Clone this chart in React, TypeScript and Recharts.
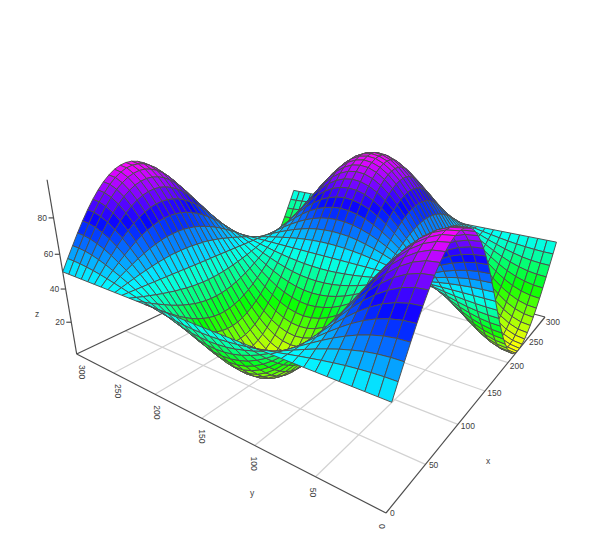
import React from 'react';
import { ScatterChart, Scatter, XAxis, YAxis } from 'recharts';

const WIDTH = 590;
const HEIGHT = 543;

const xTicks = [0, 50, 100, 150, 200, 250, 300];
const yTicks = [0, 50, 100, 150, 200, 250, 300];
const zTicks = [20, 40, 60, 80];

// surface heights, one list per y step, x runs along each list
const zRow0 = [50,56.3,62.4,68.4,74.1,79.4,84.2,88.5,92.2,95.2,97.6,99.1,99.9,99.9,99.1,97.6,95.2,92.2,88.5,84.2,79.4,74.1,68.4,62.4,56.3,50,43.7,37.6,31.6,25.9,20.6,15.8,11.5,7.8,4.8,2.4,0.9,0.1,0.1,0.9,2.4,4.8,7.8,11.5,15.8,20.6,25.9,31.6,37.6,43.7,50];
const zRow1 = [50,56.2,62.2,68.1,73.7,78.9,83.7,87.9,91.6,94.6,96.8,98.4,99.1,99.1,98.4,96.8,94.6,91.6,87.9,83.7,78.9,73.7,68.1,62.2,56.2,50,43.8,37.8,31.9,26.3,21.1,16.3,12.1,8.4,5.4,3.2,1.6,0.9,0.9,1.6,3.2,5.4,8.4,12.1,16.3,21.1,26.3,31.9,37.8,43.8,50];
const zRow2 = [50,55.9,61.7,67.3,72.6,77.6,82.2,86.2,89.7,92.5,94.7,96.1,96.9,96.9,96.1,94.7,92.5,89.7,86.2,82.2,77.6,72.6,67.3,61.7,55.9,50,44.1,38.3,32.7,27.4,22.4,17.8,13.8,10.3,7.5,5.3,3.9,3.1,3.1,3.9,5.3,7.5,10.3,13.8,17.8,22.4,27.4,32.7,38.3,44.1,50];
const zRow3 = [50,55.4,60.8,65.9,70.9,75.5,79.6,83.4,86.6,89.2,91.2,92.5,93.2,93.2,92.5,91.2,89.2,86.6,83.4,79.6,75.5,70.9,65.9,60.8,55.4,50,44.6,39.2,34.1,29.1,24.5,20.4,16.6,13.4,10.8,8.8,7.5,6.8,6.8,7.5,8.8,10.8,13.4,16.6,20.4,24.5,29.1,34.1,39.2,44.6,50];
const zRow4 = [50,54.8,59.5,64.1,68.5,72.5,76.2,79.5,82.3,84.7,86.4,87.6,88.2,88.2,87.6,86.4,84.7,82.3,79.5,76.2,72.5,68.5,64.1,59.5,54.8,50,45.2,40.5,35.9,31.5,27.5,23.8,20.5,17.7,15.3,13.6,12.4,11.8,11.8,12.4,13.6,15.3,17.7,20.5,23.8,27.5,31.5,35.9,40.5,45.2,50];
const zRow5 = [50,54,58,61.8,65.5,68.9,72,74.8,77.1,79.1,80.6,81.6,82.1,82.1,81.6,80.6,79.1,77.1,74.8,72,68.9,65.5,61.8,58,54,50,46,42,38.2,34.5,31.1,28,25.2,22.9,20.9,19.4,18.4,17.9,17.9,18.4,19.4,20.9,22.9,25.2,28,31.1,34.5,38.2,42,46,50];
const zRow6 = [50,53.1,56.2,59.2,62,64.7,67.1,69.3,71.1,72.6,73.8,74.6,75,75,74.6,73.8,72.6,71.1,69.3,67.1,64.7,62,59.2,56.2,53.1,50,46.9,43.8,40.8,38,35.3,32.9,30.7,28.9,27.4,26.2,25.4,25,25,25.4,26.2,27.4,28.9,30.7,32.9,35.3,38,40.8,43.8,46.9,50];
const zRow7 = [50,52.1,54.3,56.3,58.2,60.1,61.7,63.2,64.4,65.5,66.3,66.8,67.1,67.1,66.8,66.3,65.5,64.4,63.2,61.7,60.1,58.2,56.3,54.3,52.1,50,47.9,45.7,43.7,41.8,39.9,38.3,36.8,35.6,34.5,33.7,33.2,32.9,32.9,33.2,33.7,34.5,35.6,36.8,38.3,39.9,41.8,43.7,45.7,47.9,50];
const zRow8 = [50,51.1,52.2,53.2,54.2,55.1,55.9,56.7,57.3,57.9,58.3,58.5,58.7,58.7,58.5,58.3,57.9,57.3,56.7,55.9,55.1,54.2,53.2,52.2,51.1,50,48.9,47.8,46.8,45.8,44.9,44.1,43.3,42.7,42.1,41.7,41.5,41.3,41.3,41.5,41.7,42.1,42.7,43.3,44.1,44.9,45.8,46.8,47.8,48.9,50];
const zRow9 = [50,50,50,50,50,50,50,50,50,50,50,50,50,50,50,50,50,50,50,50,50,50,50,50,50,50,50,50,50,50,50,50,50,50,50,50,50,50,50,50,50,50,50,50,50,50,50,50,50,50,50];
const zRow10 = [50,48.9,47.8,46.8,45.8,44.9,44.1,43.3,42.7,42.1,41.7,41.5,41.3,41.3,41.5,41.7,42.1,42.7,43.3,44.1,44.9,45.8,46.8,47.8,48.9,50,51.1,52.2,53.2,54.2,55.1,55.9,56.7,57.3,57.9,58.3,58.5,58.7,58.7,58.5,58.3,57.9,57.3,56.7,55.9,55.1,54.2,53.2,52.2,51.1,50];
const zRow11 = [50,47.9,45.7,43.7,41.8,39.9,38.3,36.8,35.6,34.5,33.7,33.2,32.9,32.9,33.2,33.7,34.5,35.6,36.8,38.3,39.9,41.8,43.7,45.7,47.9,50,52.1,54.3,56.3,58.2,60.1,61.7,63.2,64.4,65.5,66.3,66.8,67.1,67.1,66.8,66.3,65.5,64.4,63.2,61.7,60.1,58.2,56.3,54.3,52.1,50];
const zRow12 = [50,46.9,43.8,40.8,38,35.3,32.9,30.7,28.9,27.4,26.2,25.4,25,25,25.4,26.2,27.4,28.9,30.7,32.9,35.3,38,40.8,43.8,46.9,50,53.1,56.2,59.2,62,64.7,67.1,69.3,71.1,72.6,73.8,74.6,75,75,74.6,73.8,72.6,71.1,69.3,67.1,64.7,62,59.2,56.2,53.1,50];
const zRow13 = [50,46,42,38.2,34.5,31.1,28,25.2,22.9,20.9,19.4,18.4,17.9,17.9,18.4,19.4,20.9,22.9,25.2,28,31.1,34.5,38.2,42,46,50,54,58,61.8,65.5,68.9,72,74.8,77.1,79.1,80.6,81.6,82.1,82.1,81.6,80.6,79.1,77.1,74.8,72,68.9,65.5,61.8,58,54,50];
const zRow14 = [50,45.2,40.5,35.9,31.5,27.5,23.8,20.5,17.7,15.3,13.6,12.4,11.8,11.8,12.4,13.6,15.3,17.7,20.5,23.8,27.5,31.5,35.9,40.5,45.2,50,54.8,59.5,64.1,68.5,72.5,76.2,79.5,82.3,84.7,86.4,87.6,88.2,88.2,87.6,86.4,84.7,82.3,79.5,76.2,72.5,68.5,64.1,59.5,54.8,50];
const zRow15 = [50,44.6,39.2,34.1,29.1,24.5,20.4,16.6,13.4,10.8,8.8,7.5,6.8,6.8,7.5,8.8,10.8,13.4,16.6,20.4,24.5,29.1,34.1,39.2,44.6,50,55.4,60.8,65.9,70.9,75.5,79.6,83.4,86.6,89.2,91.2,92.5,93.2,93.2,92.5,91.2,89.2,86.6,83.4,79.6,75.5,70.9,65.9,60.8,55.4,50];
const zRow16 = [50,44.1,38.3,32.7,27.4,22.4,17.8,13.8,10.3,7.5,5.3,3.9,3.1,3.1,3.9,5.3,7.5,10.3,13.8,17.8,22.4,27.4,32.7,38.3,44.1,50,55.9,61.7,67.3,72.6,77.6,82.2,86.2,89.7,92.5,94.7,96.1,96.9,96.9,96.1,94.7,92.5,89.7,86.2,82.2,77.6,72.6,67.3,61.7,55.9,50];
const zRow17 = [50,43.8,37.8,31.9,26.3,21.1,16.3,12.1,8.4,5.4,3.2,1.6,0.9,0.9,1.6,3.2,5.4,8.4,12.1,16.3,21.1,26.3,31.9,37.8,43.8,50,56.2,62.2,68.1,73.7,78.9,83.7,87.9,91.6,94.6,96.8,98.4,99.1,99.1,98.4,96.8,94.6,91.6,87.9,83.7,78.9,73.7,68.1,62.2,56.2,50];
const zRow18 = [50,43.7,37.6,31.6,25.9,20.6,15.8,11.5,7.8,4.8,2.4,0.9,0.1,0.1,0.9,2.4,4.8,7.8,11.5,15.8,20.6,25.9,31.6,37.6,43.7,50,56.3,62.4,68.4,74.1,79.4,84.2,88.5,92.2,95.2,97.6,99.1,99.9,99.9,99.1,97.6,95.2,92.2,88.5,84.2,79.4,74.1,68.4,62.4,56.3,50];

// the far half of the surface repeats the near half
const zGrid = [
  zRow0, zRow1, zRow2, zRow3, zRow4, zRow5, zRow6, zRow7, zRow8, zRow9,
  zRow10, zRow11, zRow12, zRow13, zRow14, zRow15, zRow16, zRow17, zRow18,
  zRow17, zRow16, zRow15, zRow14, zRow13, zRow12, zRow11, zRow10,
  zRow9, zRow8, zRow7, zRow6, zRow5, zRow4, zRow3, zRow2, zRow1, zRow0,
];

// camera fitted to the axis corners
const project = (x: number, y: number, z: number) => {
  const u = x / 300;
  const v = y / 300;
  const w = z / 50;
  const depth = 1 + 0.65 * u + 0.475 * v - 0.08 * w;
  return {
    px: (513.25 * u - 272.9 * v - 25.6 * w + 386) / depth,
    py: (10.05 * u + 9.15 * v - 142.9 * w + 513) / depth,
    depth,
  };
};

const colorFor = (z: number) => `hsl(${60 + 2.4 * z}, 100%, 51%)`;

const segment = (a: number[], b: number[]) => {
  const p = project(a[0], a[1], a[2]);
  const q = project(b[0], b[1], b[2]);
  return { x: p.px, y: p.py, dx: q.px - p.px, dy: q.py - p.py };
};

const gridSegments = [
  ...xTicks.slice(1, -1).map(t => segment([t, 0, 0], [t, 300, 0])),
  ...yTicks.slice(1, -1).map(t => segment([0, t, 0], [300, t, 0])),
];

const axisSegments = [
  segment([0, 0, 0], [300, 0, 0]),
  segment([0, 0, 0], [0, 300, 0]),
  segment([0, 300, 0], [300, 300, 0]),
  segment([300, 0, 0], [300, 300, 0]),
  segment([0, 300, 0], [0, 300, 100]),
];

const zTickSegments = zTicks.map(t => {
  const p = project(0, 300, t);
  return { x: p.px, y: p.py, dx: -5, dy: 0 };
});

const buildCells = () => {
  const nx = zGrid[0].length - 1;
  const ny = zGrid.length - 1;
  const cells: any[] = [];
  for (let j = 0; j < ny; j++) {
    for (let i = 0; i < nx; i++) {
      const xa = (i * 300) / nx;
      const xb = ((i + 1) * 300) / nx;
      const ya = (j * 300) / ny;
      const yb = ((j + 1) * 300) / ny;
      const corners = [
        project(xa, ya, zGrid[j][i]),
        project(xb, ya, zGrid[j][i + 1]),
        project(xb, yb, zGrid[j + 1][i + 1]),
        project(xa, yb, zGrid[j + 1][i]),
      ];
      const mean = (zGrid[j][i] + zGrid[j][i + 1] + zGrid[j + 1][i + 1] + zGrid[j + 1][i]) / 4;
      cells.push({
        x: corners[0].px,
        y: corners[0].py,
        points: corners.map(c => `${c.px - corners[0].px},${c.py - corners[0].py}`).join(' '),
        fill: colorFor(mean),
        depth: corners.reduce((s, c) => s + c.depth, 0) / 4,
      });
    }
  }
  // far cells first so the near ones paint over them
  return cells.sort((a, b) => b.depth - a.depth);
};

const cells = buildCells();

const tickLabels = [
  ...xTicks.map(t => {
    const p = project(t, 0, 0);
    return { x: p.px + 4 - 0.011 * t, y: p.py + 0.0167 * t, text: String(t), anchor: 'start', rotate: 0 };
  }),
  ...yTicks.map(t => {
    const p = project(0, t, 0);
    return { x: p.px - 4.5 + 0.034 * t, y: p.py + 11, text: String(t), anchor: 'start', rotate: 90 };
  }),
  ...zTicks.map(t => {
    const p = project(0, 300, t);
    return { x: p.px - 6.5, y: p.py, text: String(t), anchor: 'end', rotate: 0 };
  }),
];

const axisTitles = [
  { x: 488, y: 461, text: 'x', anchor: 'middle', rotate: 0 },
  { x: 252, y: 492.5, text: 'y', anchor: 'middle', rotate: 0 },
  { x: 37, y: 314, text: 'z', anchor: 'middle', rotate: 0 },
];

const CellShape = (props: any) => (
  <polygon
    transform={`translate(${props.cx},${props.cy})`}
    points={props.payload.points}
    fill={props.payload.fill}
    stroke="#4d4d4d"
    strokeWidth={0.95}
    strokeLinejoin="round"
  />
);

const lineShape = (color: string, width: number) => (props: any) => (
  <line
    x1={props.cx}
    y1={props.cy}
    x2={props.cx + props.payload.dx}
    y2={props.cy + props.payload.dy}
    stroke={color}
    strokeWidth={width}
  />
);

const LabelShape = (props: any) => {
  const { text, anchor, rotate } = props.payload;
  return (
    <text
      x={props.cx}
      y={props.cy}
      textAnchor={anchor}
      dominantBaseline="central"
      transform={rotate ? `rotate(${rotate} ${props.cx} ${props.cy})` : undefined}
      fontFamily="'Liberation Sans', Arial, sans-serif"
      fontSize={8.5}
      fill="#404040"
    >
      {text}
    </text>
  );
};

export default function App() {
  return (
    <div style={{ position: 'absolute', left: 0, top: 0, width: WIDTH, height: HEIGHT }}>
      <ScatterChart width={WIDTH} height={HEIGHT} margin={{ top: 0, right: 0, bottom: 0, left: 0 }}>
        <XAxis type="number" dataKey="x" domain={[0, WIDTH]} hide />
        <YAxis type="number" dataKey="y" domain={[0, HEIGHT]} reversed hide />
        <Scatter data={gridSegments} shape={lineShape('#d2d2d2', 1.2)} isAnimationActive={false} />
        <Scatter data={axisSegments} shape={lineShape('#4d4d4d', 1.2)} isAnimationActive={false} />
        <Scatter data={zTickSegments} shape={lineShape('#4d4d4d', 1.2)} isAnimationActive={false} />
        <Scatter data={cells} shape={CellShape} isAnimationActive={false} />
        <Scatter data={tickLabels} shape={LabelShape} isAnimationActive={false} />
        <Scatter data={axisTitles} shape={LabelShape} isAnimationActive={false} />
      </ScatterChart>
    </div>
  );
}
